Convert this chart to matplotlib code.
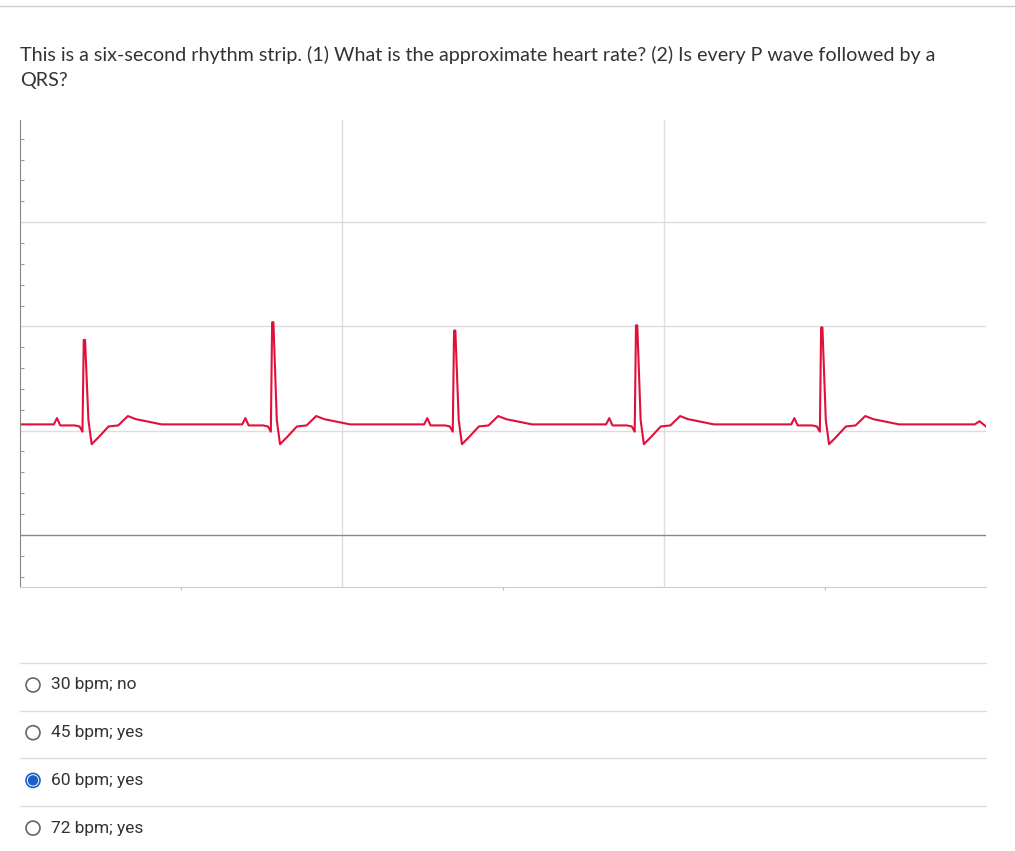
import numpy as np
import matplotlib.pyplot as plt
from matplotlib.lines import Line2D
from matplotlib.patches import Ellipse

plt.rcParams['font.family'] = ['Lato', 'DejaVu Sans']

# beat data (seconds, mV)
r_times = [0.40, 1.57, 2.70, 3.83, 4.98]
r_amps = [0.87, 1.04, 0.96, 1.01, 0.99]
baseline = 0.06
# template of one beat relative to the R peak: offsets (s) and levels (mV)
tpl_dt = [-0.30, -0.19, -0.17, -0.15, -0.06, -0.03, -0.012, -0.004, 0.004, 0.025, 0.045,
          0.09, 0.15, 0.21, 0.27, 0.32, 0.48]
tpl_v = [0.06, 0.06, 0.12, 0.05, 0.05, 0.04, -0.01, None, None, 0.1, -0.13,
         -0.06, 0.04, 0.05, 0.14, 0.11, 0.06]
question = ("This is a six-second rhythm strip. (1) What is the approximate heart rate? "
            "(2) Is every P wave followed by a\nQRS?")
options = ["30 bpm; no", "45 bpm; yes", "60 bpm; yes", "72 bpm; yes"]
selected = 2

xs, ys = [0.0], [baseline]
for t, a in zip(r_times, r_amps):
    for dt, v in zip(tpl_dt, tpl_v):
        xs.append(t + dt)
        ys.append(a if v is None else v)
xs += [5.93, 5.96, 6.0]
ys += [baseline, 0.09, 0.04]

fig = plt.figure(figsize=(10.15, 8.51), dpi=100)
W, H = 1015, 851
fig.add_artist(Line2D([0, 1], [1 - 6 / H, 1 - 6 / H], color='#cccccc', lw=1))
fig.text(20 / W, 1 - 46 / H, question, fontsize=14.2, color='#333333',
         va='top', linespacing=1.6)

ax = fig.add_axes([20 / W, (H - 587) / H, 966 / W, 467 / H])
ax.set_xlim(0, 6)
ax.set_ylim(-1.5, 2.98)
for g in [2, 4]:
    ax.axvline(g, color='#dddddd', lw=1)
for g in [2, 1, 0]:
    ax.axhline(g, color='#dddddd', lw=1)
ax.axhline(-1, color='#888888', lw=1)
ax.plot(xs, ys, color='#e0103a', lw=1.5)
ax.set_yticks(np.arange(-1.4, 3.0, 0.2))
ax.set_yticklabels([])
ax.set_xticks([1, 3, 5])
ax.set_xticklabels([])
ax.tick_params(axis='y', length=3, color='#999999', direction='in')
ax.tick_params(axis='x', length=2, color='#bbbbbb')
for s in ['top', 'right']:
    ax.spines[s].set_visible(False)
ax.spines['left'].set_color('#888888')
ax.spines['bottom'].set_color('#cccccc')

for i, opt in enumerate(options):
    ysep = 663 + i * 47.7
    fig.add_artist(Line2D([20 / W, 986 / W], [1 - ysep / H] * 2, color='#dddddd', lw=1))
    yc = 1 - (ysep + 22) / H
    col = '#1a5fc8' if i == selected else '#666666'
    fig.add_artist(Ellipse((33 / W, yc), 14 / W, 14 / H, transform=fig.transFigure,
                           fc='white', ec=col, lw=1.2))
    if i == selected:
        fig.add_artist(Ellipse((33 / W, yc), 9 / W, 9 / H, transform=fig.transFigure,
                               fc=col, ec=col))
    fig.text(51 / W, yc, opt, fontsize=12.5, color='#333333', va='center',
             family=['Roboto', 'DejaVu Sans'])

fig.savefig('out.png', dpi=100)
